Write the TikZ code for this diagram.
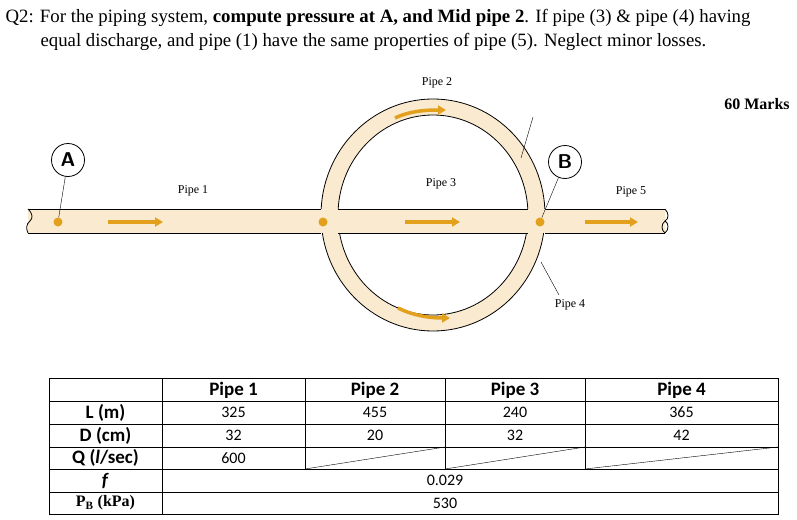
\documentclass[tikz,border=0pt]{standalone}
\usepackage{fontspec}
\setmainfont{Liberation Serif}
\newfontfamily\carl{Carlito}
\begin{document}
\begin{tikzpicture}[x=1pt,y=-1pt,
  lbl/.style={font=\fontsize{12}{14}\selectfont},
  flow/.style={draw=arrowc,line width=3.5pt,-{Triangle[length=8pt,width=9pt]}},
  dot/.style={circle,fill=arrowc,inner sep=0pt,minimum size=9pt},
  tag/.style={circle,draw,thick,fill=white,minimum size=33pt,inner sep=0pt,font=\sffamily\bfseries\fontsize{20}{20}\selectfont},
  cell/.style={font=\carl\fontsize{16}{18}\selectfont},
  hcell/.style={font=\carl\bfseries\fontsize{19}{20}\selectfont}]
\definecolor{pipec}{RGB}{250,234,208}
\definecolor{arrowc}{RGB}{226,160,28}
\usetikzlibrary{arrows.meta}
\useasboundingbox (0,0) rectangle (797,519);
% title
\node[anchor=west,font=\fontsize{18.8}{22}\selectfont] (t1) at (2,18) {Q2: For the piping system, \textbf{compute pressure at A, and Mid pipe 2}. If pipe (3) \& pipe (4) having};
\node[anchor=west,font=\fontsize{18.8}{22}\selectfont] (t2) at (37,42) {equal discharge, and pipe (1) have the same properties of pipe (5). Neglect minor losses.};
\node[font=\bfseries\fontsize{16}{18}\selectfont] (marks) at (757,104) {60 Marks};
% loop
\fill[pipec,draw=black,thick] (433,215) ellipse [x radius=112,y radius=116];
\fill[white,draw=black,thick] (433,215) ellipse [x radius=95,y radius=100];
% main pipe
\fill[pipec] (28,209) rectangle (665,233);
\draw[thick] (28,209) -- (321,209) (338,209) -- (528,209) (545,209) -- (665,209);
\draw[thick] (28,233) -- (321,233) (338,233) -- (528,233) (545,233) -- (665,233);
\draw[thick] (28,209) .. controls (33,214) and (33,218) .. (30,221) .. controls (26,224) and (26,229) .. (28,233);
\draw[thick] (665,209) .. controls (669,213) and (669,219) .. (665,221) .. controls (661,224) and (661,230) .. (665,233);
\draw[thick] (665,221) .. controls (669,223) and (669,230) .. (665,233);
% arrows
\draw[flow] (108,222) -- (163,222);
\draw[flow] (405,222) -- (460,222);
\draw[flow] (585,222) -- (638,222);
\draw[flow] (395,118) .. controls (410,111) and (425,110) .. (446,110);
\draw[flow] (398,308) .. controls (412,315) and (428,318) .. (450,318);
% dots and tags
\node[dot] (dA) at (58,222) {};
\node[dot] (dM) at (323,222) {};
\node[dot] (dB) at (540,222) {};
\node[tag] (A) at (68,160) {A};
\node[tag] (B) at (565,162) {B};
\draw (A) -- (dA);
\draw (B) -- (dB);
\coordinate (p2a) at (533,117); \coordinate (p2b) at (521,158);
\draw (p2a) -- (p2b);
\coordinate (p4a) at (541,262); \coordinate (p4b) at (559,295);
\draw (p4a) -- (p4b);
\node[lbl] (L1) at (193,191) {Pipe 1};
\node[lbl] (L2) at (437,83) {Pipe 2};
\node[lbl] (L3) at (441,184) {Pipe 3};
\node[lbl] (L4) at (570,305) {Pipe 4};
\node[lbl] (L5) at (631,192) {Pipe 5};
% table
\draw[thick] (49,378) rectangle (778,514);
\foreach \y in {401,424,447,469,492} \draw (49,\y) -- (778,\y);
\draw (162,378) -- (162,514);
\foreach \x in {305,445,585} \draw (\x,378) -- (\x,469);
\draw (305,469) -- (445,447) (445,469) -- (585,447) (585,469) -- (778,447);
\node[hcell] (h1) at (233.5,390) {Pipe 1};
\node[hcell] (h2) at (375,390) {Pipe 2};
\node[hcell] (h3) at (515,390) {Pipe 3};
\node[hcell] (h4) at (681.5,390) {Pipe 4};
\node[hcell] (rL) at (105.5,412.5) {L (m)};
\node[hcell] (rD) at (105.5,435.5) {D (cm)};
\node[hcell] (rQ) at (105.5,458) {Q (\textit{l}/sec)};
\node[hcell] (rf) at (105.5,480.5) {\textit{f}};
\node[font=\bfseries\fontsize{16}{18}\selectfont] (rP) at (105.5,503) {P\textsubscript{B} (kPa)};
\node[cell] (c11) at (233.5,412.5) {325};
\node[cell] (c12) at (375,412.5) {455};
\node[cell] (c13) at (515,412.5) {240};
\node[cell] (c14) at (681.5,412.5) {365};
\node[cell] (c21) at (233.5,435.5) {32};
\node[cell] (c22) at (375,435.5) {20};
\node[cell] (c23) at (515,435.5) {32};
\node[cell] (c24) at (681.5,435.5) {42};
\node[cell] (c31) at (233.5,458) {600};
\node[cell] (cf) at (445,480.5) {0.029};
\node[cell] (cp) at (445,503) {530};
\end{tikzpicture}
\end{document}
